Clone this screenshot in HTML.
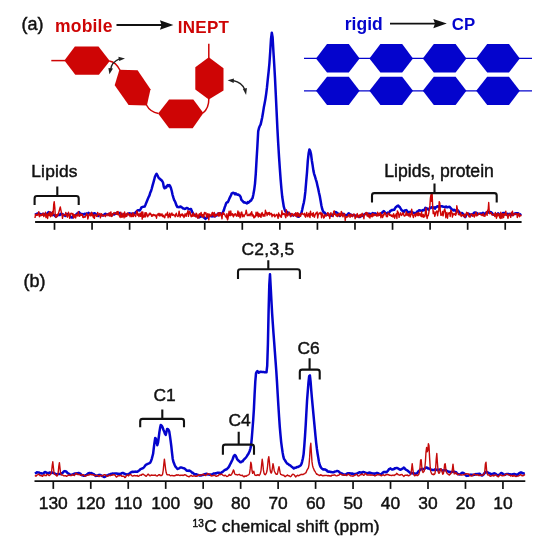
<!DOCTYPE html>
<html lang="en"><head><meta charset="utf-8"><title>13C NMR spectra</title>
<style>
html,body{margin:0;padding:0;background:#fff;}
body{width:550px;height:546px;overflow:hidden;}
svg{display:block;filter:blur(0.45px);}
.t{font-family:"Liberation Sans", Arial, Helvetica, sans-serif;font-size:17.4px;fill:#111;stroke:#111;stroke-width:0.45px;}
.b{font-family:"Liberation Sans", Arial, Helvetica, sans-serif;font-size:17.5px;font-weight:bold;}
</style></head><body>
<svg width="550" height="546" viewBox="0 0 550 546">
<rect width="550" height="546" fill="#fff"/>
<g fill="#ce0505" stroke="none">
<polygon points="64.4,60.5 74.9,46.4 98.5,46.4 109.8,61 98.9,74.7 75.3,74.7" fill="#ce0505"/>
<polygon points="119.4,69.8 137.6,70.2 150.5,89.3 146.9,105.4 128.6,105 114.7,85.2" fill="#ce0505"/>
<polygon points="158.1,113.6 169.1,99.5 193.3,99.5 203.4,113 192.7,128.3 169.1,128.3" fill="#ce0505"/>
<polygon points="208.8,57.2 223.5,68.3 223.5,90.4 208.8,99.5 195.3,89.4 195.3,67.3" fill="#ce0505"/>
</g>
<g fill="none" stroke="#ce0505" stroke-width="1.5">
<path d="M51.3,60.6 L65,60.6"/>
<path d="M109.3,61 Q116.2,62.3 120,70.3"/>
<path d="M146.5,105 Q150,112 158.5,113.4"/>
<path d="M208.8,99 Q209,108 203,113"/>
<path d="M208.8,43.7 L208.8,58"/>
</g>
<g fill="none" stroke="#222" stroke-width="1.4">
<path d="M110.8,69 Q111.6,62.3 119.5,58.9"/>
<path d="M233,80.5 Q242.5,82.5 244.9,90"/>
</g>
<path d="M125,58.4 L118.4,56.8 L119.2,60.9 Z" fill="#222"/>
<path d="M109.4,74.2 L108.4,67.9 L113,68.4 Z" fill="#222"/>
<path d="M227.6,80.2 L233.9,78.4 L233.7,82.9 Z" fill="#222"/>
<path d="M246.1,95 L242.9,88.9 L246.9,88 Z" fill="#222"/>
<line x1="304" y1="58.4" x2="532" y2="58.4" stroke="#0404cd" stroke-width="1.3"/>
<polygon points="316.0,58.4 327.0,44.1 348.8,44.1 359.6,58.4 348.8,72.6 327.0,72.6" fill="#0404cd"/>
<polygon points="369.4,58.4 380.4,44.1 402.2,44.1 413.0,58.4 402.2,72.6 380.4,72.6" fill="#0404cd"/>
<polygon points="422.8,58.4 433.8,44.1 455.6,44.1 466.40000000000003,58.4 455.6,72.6 433.8,72.6" fill="#0404cd"/>
<polygon points="476.2,58.4 487.2,44.1 509.0,44.1 519.8,58.4 509.0,72.6 487.2,72.6" fill="#0404cd"/>
<line x1="304" y1="90.8" x2="532" y2="90.8" stroke="#0404cd" stroke-width="1.3"/>
<polygon points="316.0,90.8 327.0,76.8 348.8,76.8 359.6,90.8 348.8,105.1 327.0,105.1" fill="#0404cd"/>
<polygon points="369.4,90.8 380.4,76.8 402.2,76.8 413.0,90.8 402.2,105.1 380.4,105.1" fill="#0404cd"/>
<polygon points="422.8,90.8 433.8,76.8 455.6,76.8 466.40000000000003,90.8 455.6,105.1 433.8,105.1" fill="#0404cd"/>
<polygon points="476.2,90.8 487.2,76.8 509.0,76.8 519.8,90.8 509.0,105.1 487.2,105.1" fill="#0404cd"/>
<text x="21.6" y="29.9" class="t" style="font-size:18px">(a)</text>
<text x="55" y="31.5" class="b" fill="#ce0505" letter-spacing="0.2">mobile</text>
<line x1="116.5" y1="25" x2="165.4" y2="25" stroke="#111" stroke-width="1.9"/>
<path d="M173.4,25 L159.9,20.3 L161.6,25 L159.9,29.7 Z" fill="#111"/>
<text x="177.8" y="32.6" class="b" style="font-size:17px" letter-spacing="0.25" fill="#ce0505">INEPT</text>
<text x="344.8" y="29.8" class="b" fill="#0404cd">rigid</text>
<line x1="390" y1="23.6" x2="438.8" y2="23.6" stroke="#111" stroke-width="1.9"/>
<path d="M446.8,23.6 L433.3,18.900000000000002 L435.0,23.6 L433.3,28.3 Z" fill="#111"/>
<text x="451.8" y="30.2" class="b" style="font-size:16.8px" fill="#0404cd">CP</text>
<path d="M35.0,214.7 L35.8,214.2 L36.6,214.2 L37.4,213.5 L38.2,213.8 L39.0,213.5 L39.8,213.8 L40.6,214.2 L41.4,214.7 L42.2,214.5 L43.0,213.7 L43.8,214.2 L44.6,214.4 L45.4,215.0 L46.2,214.3 L47.0,213.7 L47.8,213.0 L48.6,212.1 L49.4,213.1 L50.2,212.6 L51.0,212.9 L51.8,213.6 L52.6,214.7 L53.4,214.8 L54.2,215.0 L55.0,215.8 L55.8,216.6 L56.6,216.1 L57.4,215.5 L58.2,215.1 L59.0,214.9 L59.8,215.0 L60.6,213.8 L61.4,214.1 L62.2,214.3 L63.0,214.3 L63.8,215.2 L64.6,215.4 L65.4,216.0 L66.2,215.1 L67.0,214.1 L67.8,214.7 L68.6,214.5 L69.4,214.8 L70.2,216.4 L71.0,217.3 L71.8,217.4 L72.6,217.4 L73.4,215.8 L74.2,215.6 L75.0,215.5 L75.8,215.0 L76.6,214.2 L77.4,213.4 L78.2,213.0 L79.0,212.2 L79.8,213.5 L80.6,213.6 L81.4,214.6 L82.2,214.1 L83.0,214.6 L83.8,214.3 L84.6,213.7 L85.4,214.5 L86.2,213.6 L87.0,213.6 L87.8,213.3 L88.6,212.9 L89.4,213.8 L90.2,214.6 L91.0,213.5 L91.8,214.0 L92.6,213.5 L93.4,213.9 L94.2,213.2 L95.0,213.5 L95.8,214.1 L96.6,214.8 L97.4,214.8 L98.2,215.9 L99.0,214.8 L99.8,215.2 L100.6,215.4 L101.4,215.0 L102.2,215.3 L103.0,215.5 L103.8,214.8 L104.6,214.3 L105.4,213.7 L106.2,214.5 L107.0,214.4 L107.8,214.3 L108.6,214.1 L109.4,214.7 L110.2,214.7 L111.0,215.2 L111.8,215.4 L112.6,214.4 L113.4,214.1 L114.2,214.5 L115.0,213.9 L115.8,213.3 L116.6,213.7 L117.4,213.6 L118.2,213.5 L119.0,213.0 L119.8,213.0 L120.6,213.7 L121.4,214.9 L122.2,215.1 L123.0,214.7 L123.8,214.7 L124.6,214.7 L125.4,215.3 L126.2,214.5 L127.0,214.4 L127.8,214.1 L128.6,213.6 L129.4,213.2 L130.2,214.3 L131.0,213.5 L131.8,213.9 L132.6,213.7 L133.4,213.6 L134.2,214.1 L135.0,213.4 L135.8,212.2 L136.6,211.4 L137.4,210.5 L138.2,210.3 L139.0,210.3 L139.8,210.5 L140.6,209.1 L141.4,207.5 L142.2,207.2 L143.0,206.7 L143.8,206.7 L144.6,206.6 L145.4,205.0 L146.2,202.9 L147.0,201.0 L147.8,199.1 L148.6,197.1 L149.4,195.7 L150.2,192.8 L151.0,191.1 L151.8,188.5 L152.6,185.4 L153.4,182.6 L154.2,179.7 L155.0,176.5 L155.8,175.0 L156.6,173.7 L157.4,175.3 L158.2,176.9 L159.0,178.3 L159.8,178.6 L160.6,179.6 L161.4,180.1 L162.2,181.1 L163.0,182.5 L163.8,186.9 L164.6,188.3 L165.4,187.0 L166.2,187.5 L167.0,185.9 L167.8,185.0 L168.6,186.0 L169.4,185.1 L170.2,186.2 L171.0,188.2 L171.8,191.3 L172.6,195.0 L173.4,197.7 L174.2,200.1 L175.0,201.4 L175.8,203.5 L176.6,205.7 L177.4,207.1 L178.2,207.1 L179.0,207.2 L179.8,206.7 L180.6,206.5 L181.4,207.3 L182.2,207.5 L183.0,208.4 L183.8,208.5 L184.6,208.9 L185.4,208.8 L186.2,208.1 L187.0,208.1 L187.8,208.2 L188.6,209.2 L189.4,209.3 L190.2,209.1 L191.0,209.0 L191.8,211.1 L192.6,212.6 L193.4,214.1 L194.2,214.7 L195.0,215.2 L195.8,215.7 L196.6,216.0 L197.4,216.6 L198.2,217.1 L199.0,217.3 L199.8,217.0 L200.6,216.4 L201.4,216.4 L202.2,216.0 L203.0,216.2 L203.8,217.6 L204.6,217.5 L205.4,218.9 L206.2,218.1 L207.0,217.7 L207.8,217.1 L208.6,216.1 L209.4,215.9 L210.2,215.9 L211.0,216.2 L211.8,216.4 L212.6,215.9 L213.4,216.3 L214.2,215.6 L215.0,216.4 L215.8,214.9 L216.6,215.5 L217.4,214.8 L218.2,213.5 L219.0,213.5 L219.8,213.5 L220.6,213.5 L221.4,213.8 L222.2,214.3 L223.0,212.3 L223.8,210.3 L224.6,207.6 L225.4,205.5 L226.2,203.2 L227.0,202.3 L227.8,202.2 L228.6,200.4 L229.4,198.6 L230.2,196.9 L231.0,195.3 L231.8,193.3 L232.6,193.0 L233.4,192.8 L234.2,193.1 L235.0,194.3 L235.8,193.4 L236.6,194.4 L237.4,194.7 L238.2,194.5 L239.0,195.1 L239.8,195.6 L240.6,196.9 L241.4,199.9 L242.2,200.7 L243.0,201.5 L243.8,202.5 L244.6,202.2 L245.4,202.8 L246.2,202.9 L247.0,203.4 L247.8,202.1 L248.6,202.6 L249.4,201.9 L250.2,200.8 L251.0,200.8 L251.8,199.1 L252.6,198.0 L253.4,194.3 L254.2,189.8 L255.0,183.6 L255.8,173.4 L256.6,159.1 L257.4,146.0 L258.2,131.4 L259.0,128.0 L259.8,126.0 L260.6,124.6 L261.4,121.1 L262.2,117.5 L263.0,112.8 L263.8,107.6 L264.6,103.6 L265.4,99.1 L266.2,93.6 L267.0,87.2 L267.8,79.1 L268.6,71.9 L269.4,63.7 L270.2,52.0 L271.0,39.1 L271.8,32.7 L272.6,37.2 L273.4,51.3 L274.2,64.0 L275.0,78.1 L275.8,94.7 L276.6,111.6 L277.4,128.6 L278.2,143.3 L279.0,156.3 L279.8,168.1 L280.6,179.1 L281.4,188.5 L282.2,196.5 L283.0,201.8 L283.8,206.7 L284.6,209.4 L285.4,211.2 L286.2,212.1 L287.0,211.8 L287.8,212.9 L288.6,212.7 L289.4,214.0 L290.2,214.0 L291.0,215.4 L291.8,214.8 L292.6,215.2 L293.4,215.4 L294.2,214.8 L295.0,214.4 L295.8,215.0 L296.6,215.8 L297.4,216.1 L298.2,216.8 L299.0,216.6 L299.8,215.0 L300.6,214.2 L301.4,213.1 L302.2,209.7 L303.0,205.9 L303.8,202.8 L304.6,198.1 L305.4,191.2 L306.2,181.5 L307.0,172.4 L307.8,160.9 L308.6,153.6 L309.4,149.4 L310.2,150.8 L311.0,154.0 L311.8,160.2 L312.6,165.1 L313.4,170.6 L314.2,174.1 L315.0,176.5 L315.8,179.3 L316.6,181.8 L317.4,185.4 L318.2,188.8 L319.0,192.7 L319.8,196.2 L320.6,200.8 L321.4,205.5 L322.2,209.0 L323.0,211.1 L323.8,212.6 L324.6,212.6 L325.4,213.7 L326.2,214.4 L327.0,214.5 L327.8,214.7 L328.6,214.3 L329.4,215.2 L330.2,214.9 L331.0,215.7 L331.8,215.4 L332.6,215.8 L333.4,214.1 L334.2,213.8 L335.0,212.5 L335.8,212.1 L336.6,212.6 L337.4,212.9 L338.2,214.2 L339.0,215.3 L339.8,216.0 L340.6,214.8 L341.4,214.8 L342.2,213.8 L343.0,213.8 L343.8,214.5 L344.6,215.2 L345.4,215.2 L346.2,215.2 L347.0,214.9 L347.8,214.3 L348.6,213.2 L349.4,214.0 L350.2,214.3 L351.0,214.8 L351.8,215.4 L352.6,215.2 L353.4,215.3 L354.2,215.0 L355.0,215.4 L355.8,215.6 L356.6,216.0 L357.4,215.7 L358.2,216.6 L359.0,217.0 L359.8,217.1 L360.6,216.3 L361.4,216.0 L362.2,215.9 L363.0,215.7 L363.8,214.8 L364.6,214.2 L365.4,213.8 L366.2,213.8 L367.0,214.3 L367.8,213.8 L368.6,214.0 L369.4,213.7 L370.2,213.9 L371.0,214.5 L371.8,213.9 L372.6,213.1 L373.4,213.7 L374.2,213.6 L375.0,213.3 L375.8,213.8 L376.6,214.7 L377.4,215.1 L378.2,214.3 L379.0,214.7 L379.8,214.7 L380.6,213.6 L381.4,213.4 L382.2,212.5 L383.0,211.8 L383.8,211.1 L384.6,212.0 L385.4,213.0 L386.2,213.3 L387.0,213.4 L387.8,212.6 L388.6,213.4 L389.4,212.5 L390.2,210.9 L391.0,210.7 L391.8,209.9 L392.6,210.2 L393.4,209.8 L394.2,209.8 L395.0,208.4 L395.8,207.1 L396.6,206.7 L397.4,205.9 L398.2,205.5 L399.0,206.6 L399.8,207.1 L400.6,208.5 L401.4,209.9 L402.2,210.5 L403.0,211.3 L403.8,212.0 L404.6,210.5 L405.4,210.4 L406.2,210.1 L407.0,210.8 L407.8,212.3 L408.6,212.5 L409.4,212.0 L410.2,212.1 L411.0,211.7 L411.8,211.9 L412.6,212.3 L413.4,212.6 L414.2,213.2 L415.0,213.2 L415.8,213.0 L416.6,212.4 L417.4,211.4 L418.2,211.2 L419.0,210.2 L419.8,210.5 L420.6,210.4 L421.4,210.8 L422.2,210.7 L423.0,210.1 L423.8,210.4 L424.6,209.6 L425.4,207.8 L426.2,208.2 L427.0,209.0 L427.8,208.7 L428.6,209.9 L429.4,208.7 L430.2,207.7 L431.0,207.9 L431.8,207.2 L432.6,207.1 L433.4,208.0 L434.2,207.4 L435.0,208.6 L435.8,207.2 L436.6,207.0 L437.4,206.3 L438.2,206.5 L439.0,206.8 L439.8,206.2 L440.6,206.6 L441.4,206.2 L442.2,206.3 L443.0,206.8 L443.8,206.8 L444.6,206.9 L445.4,207.2 L446.2,206.6 L447.0,207.2 L447.8,207.2 L448.6,206.9 L449.4,206.8 L450.2,207.5 L451.0,208.5 L451.8,209.3 L452.6,209.6 L453.4,210.5 L454.2,209.7 L455.0,210.2 L455.8,211.0 L456.6,211.8 L457.4,211.0 L458.2,210.6 L459.0,211.9 L459.8,212.8 L460.6,213.4 L461.4,213.1 L462.2,213.1 L463.0,214.0 L463.8,215.3 L464.6,216.7 L465.4,217.0 L466.2,215.1 L467.0,214.0 L467.8,213.6 L468.6,213.7 L469.4,214.4 L470.2,214.6 L471.0,214.6 L471.8,215.2 L472.6,214.5 L473.4,213.6 L474.2,212.6 L475.0,212.4 L475.8,212.6 L476.6,212.9 L477.4,214.2 L478.2,214.1 L479.0,213.8 L479.8,213.7 L480.6,213.5 L481.4,213.5 L482.2,214.2 L483.0,212.8 L483.8,214.0 L484.6,214.2 L485.4,213.4 L486.2,212.6 L487.0,212.5 L487.8,211.7 L488.6,212.4 L489.4,212.8 L490.2,212.0 L491.0,212.2 L491.8,212.9 L492.6,213.8 L493.4,214.6 L494.2,215.0 L495.0,214.8 L495.8,214.4 L496.6,214.3 L497.4,213.9 L498.2,213.4 L499.0,214.2 L499.8,214.7 L500.6,215.1 L501.4,214.2 L502.2,214.2 L503.0,213.0 L503.8,212.9 L504.6,213.0 L505.4,213.8 L506.2,214.7 L507.0,213.8 L507.8,214.0 L508.6,214.4 L509.4,213.8 L510.2,214.6 L511.0,213.9 L511.8,214.9 L512.6,214.8 L513.4,214.4 L514.2,213.6 L515.0,214.0 L515.8,213.3 L516.6,213.2 L517.4,213.6 L518.2,213.2 L519.0,214.3 L519.8,214.7 L520.6,214.4 L521.4,214.0" fill="none" stroke="#0404cd" stroke-width="2.5" stroke-linejoin="round"/>
<path d="M35.0,218.0 L35.5,214.3 L36.1,214.7 L36.6,215.5 L37.2,214.2 L37.7,215.2 L38.3,214.6 L38.8,211.6 L39.4,216.7 L39.9,216.4 L40.5,214.4 L41.0,214.9 L41.6,215.6 L42.1,214.0 L42.7,214.7 L43.2,213.2 L43.8,216.5 L44.3,215.4 L44.9,215.6 L45.4,212.3 L46.0,217.6 L46.5,214.8 L47.1,214.0 L47.6,218.5 L48.2,215.0 L48.7,212.9 L49.3,215.2 L49.8,211.6 L50.4,216.7 L50.9,213.7 L51.5,213.0 L52.0,216.1 L52.6,211.4 L53.1,214.2 L53.7,204.7 L54.2,201.6 L54.8,207.3 L55.3,215.9 L55.9,217.5 L56.4,214.6 L57.0,216.6 L57.5,214.1 L58.1,215.1 L58.6,212.8 L59.2,211.1 L59.7,208.9 L60.3,206.9 L60.8,209.6 L61.4,212.3 L61.9,213.6 L62.5,218.4 L63.0,215.4 L63.6,214.7 L64.1,214.7 L64.7,214.6 L65.2,214.8 L65.8,212.4 L66.3,215.7 L66.9,215.0 L67.4,217.2 L68.0,214.4 L68.5,212.2 L69.1,215.4 L69.6,218.2 L70.2,214.3 L70.7,213.6 L71.3,213.2 L71.8,213.6 L72.4,215.1 L72.9,213.5 L73.5,218.0 L74.0,214.6 L74.6,215.0 L75.1,217.6 L75.7,217.9 L76.2,214.5 L76.8,215.2 L77.3,215.9 L77.9,214.3 L78.4,211.8 L79.0,216.1 L79.5,216.3 L80.1,215.8 L80.6,213.9 L81.2,215.3 L81.7,214.4 L82.3,214.5 L82.8,217.1 L83.4,217.6 L83.9,216.7 L84.5,217.0 L85.0,217.3 L85.6,215.9 L86.1,215.3 L86.7,213.5 L87.2,214.5 L87.8,219.0 L88.3,217.1 L88.9,215.0 L89.4,214.2 L90.0,213.5 L90.5,215.8 L91.1,215.5 L91.6,212.1 L92.2,215.7 L92.7,214.0 L93.3,217.5 L93.8,215.5 L94.4,218.3 L94.9,214.7 L95.5,215.0 L96.0,215.4 L96.6,216.5 L97.1,215.8 L97.7,212.5 L98.2,214.9 L98.8,214.9 L99.3,214.1 L99.9,213.4 L100.4,217.8 L101.0,214.7 L101.5,213.7 L102.1,215.9 L102.6,215.5 L103.2,215.2 L103.7,215.9 L104.3,215.3 L104.8,215.5 L105.4,216.6 L105.9,215.6 L106.5,214.2 L107.0,214.4 L107.6,214.2 L108.1,215.7 L108.7,213.8 L109.2,212.8 L109.8,216.0 L110.3,213.0 L110.9,211.9 L111.4,216.5 L112.0,214.4 L112.5,215.9 L113.1,213.9 L113.6,213.0 L114.2,212.6 L114.7,213.6 L115.3,213.9 L115.8,213.2 L116.4,214.2 L116.9,211.7 L117.5,214.5 L118.0,211.5 L118.6,214.0 L119.1,215.5 L119.7,216.2 L120.2,217.5 L120.8,212.1 L121.3,216.2 L121.9,217.3 L122.4,216.9 L123.0,213.1 L123.5,215.5 L124.1,217.9 L124.6,211.9 L125.2,215.5 L125.7,216.9 L126.3,214.1 L126.8,216.3 L127.4,212.9 L127.9,213.4 L128.5,213.9 L129.0,215.4 L129.6,214.4 L130.1,216.7 L130.7,213.8 L131.2,215.2 L131.8,216.7 L132.3,215.6 L132.9,212.8 L133.4,216.6 L134.0,214.0 L134.5,215.0 L135.1,215.1 L135.6,216.6 L136.2,214.4 L136.7,210.9 L137.3,211.6 L137.8,215.4 L138.4,213.9 L138.9,216.6 L139.5,215.3 L140.0,213.3 L140.6,216.3 L141.1,213.4 L141.7,211.9 L142.2,219.1 L142.8,212.0 L143.3,216.5 L143.9,217.3 L144.4,216.1 L145.0,212.8 L145.5,216.9 L146.1,212.6 L146.6,213.3 L147.2,215.4 L147.7,216.8 L148.3,215.0 L148.8,215.4 L149.4,213.2 L149.9,214.4 L150.5,213.2 L151.0,214.4 L151.6,216.2 L152.1,214.8 L152.7,216.1 L153.2,214.4 L153.8,214.4 L154.3,215.4 L154.9,214.9 L155.4,216.0 L156.0,215.1 L156.5,218.2 L157.1,214.9 L157.6,214.8 L158.2,213.5 L158.7,215.2 L159.3,215.9 L159.8,213.4 L160.4,214.6 L160.9,215.9 L161.5,214.6 L162.0,213.8 L162.6,216.5 L163.1,215.2 L163.7,215.9 L164.2,217.6 L164.8,217.7 L165.3,214.6 L165.9,213.9 L166.4,215.2 L167.0,214.9 L167.5,212.3 L168.1,217.7 L168.6,215.0 L169.2,216.3 L169.7,213.3 L170.3,217.6 L170.8,214.1 L171.4,214.9 L171.9,213.0 L172.5,215.3 L173.0,214.8 L173.6,214.5 L174.1,215.6 L174.7,215.2 L175.2,216.8 L175.8,214.2 L176.3,213.2 L176.9,215.2 L177.4,216.3 L178.0,216.5 L178.5,215.4 L179.1,211.1 L179.6,214.9 L180.2,217.0 L180.7,215.0 L181.3,214.2 L181.8,215.4 L182.4,213.9 L182.9,216.1 L183.5,215.1 L184.0,217.5 L184.6,215.8 L185.1,213.6 L185.7,215.9 L186.2,216.3 L186.8,213.1 L187.3,213.4 L187.9,210.6 L188.4,216.4 L189.0,213.9 L189.5,211.4 L190.1,212.0 L190.6,215.1 L191.2,216.8 L191.7,215.0 L192.3,216.3 L192.8,214.0 L193.4,212.9 L193.9,216.2 L194.5,215.9 L195.0,215.0 L195.6,216.9 L196.1,213.1 L196.7,214.0 L197.2,216.7 L197.8,218.2 L198.3,214.9 L198.9,217.9 L199.4,213.7 L200.0,215.4 L200.5,214.5 L201.1,212.4 L201.6,216.1 L202.2,216.8 L202.7,214.4 L203.3,214.5 L203.8,217.2 L204.4,212.7 L204.9,212.4 L205.5,213.9 L206.0,212.9 L206.6,217.3 L207.1,215.8 L207.7,213.8 L208.2,213.9 L208.8,219.9 L209.3,214.1 L209.9,214.3 L210.4,216.0 L211.0,216.1 L211.5,215.0 L212.1,212.8 L212.6,212.4 L213.2,216.0 L213.7,215.3 L214.3,212.5 L214.8,216.9 L215.4,215.9 L215.9,214.5 L216.5,214.6 L217.0,215.5 L217.6,214.0 L218.1,213.0 L218.7,216.0 L219.2,212.8 L219.8,215.8 L220.3,212.6 L220.9,214.8 L221.4,215.0 L222.0,218.8 L222.5,213.4 L223.1,212.4 L223.6,214.3 L224.2,213.8 L224.7,214.5 L225.3,216.0 L225.8,216.5 L226.4,217.8 L226.9,213.7 L227.5,219.9 L228.0,218.5 L228.6,214.4 L229.1,211.1 L229.7,215.5 L230.2,215.7 L230.8,211.0 L231.3,215.1 L231.9,215.0 L232.4,213.7 L233.0,215.9 L233.5,216.8 L234.1,214.1 L234.6,215.1 L235.2,213.7 L235.7,214.1 L236.3,215.9 L236.8,216.3 L237.4,214.1 L237.9,211.0 L238.5,216.2 L239.0,212.3 L239.6,214.8 L240.1,217.8 L240.7,214.9 L241.2,212.4 L241.8,212.1 L242.3,216.9 L242.9,214.5 L243.4,215.5 L244.0,216.7 L244.5,215.0 L245.1,214.4 L245.6,213.5 L246.2,210.1 L246.7,213.0 L247.3,215.5 L247.8,215.1 L248.4,215.6 L248.9,214.1 L249.5,214.4 L250.0,215.8 L250.6,213.3 L251.1,214.5 L251.7,211.7 L252.2,216.1 L252.8,214.3 L253.3,215.4 L253.9,217.9 L254.4,217.4 L255.0,215.6 L255.5,216.9 L256.1,212.1 L256.6,215.3 L257.2,215.5 L257.7,212.2 L258.3,217.0 L258.8,213.8 L259.4,216.2 L259.9,214.0 L260.5,216.5 L261.0,217.3 L261.6,213.7 L262.1,212.5 L262.7,214.7 L263.2,216.4 L263.8,214.5 L264.3,214.3 L264.9,216.2 L265.4,210.2 L266.0,213.6 L266.5,212.4 L267.1,215.6 L267.6,213.5 L268.2,212.7 L268.7,214.2 L269.3,212.5 L269.8,215.0 L270.4,213.4 L270.9,213.7 L271.5,213.4 L272.0,216.7 L272.6,214.6 L273.1,215.2 L273.7,215.6 L274.2,214.1 L274.8,216.9 L275.3,216.1 L275.9,215.5 L276.4,214.4 L277.0,214.6 L277.5,216.3 L278.1,218.4 L278.6,213.0 L279.2,215.6 L279.7,214.7 L280.3,216.8 L280.8,216.1 L281.4,217.3 L281.9,210.8 L282.5,214.6 L283.0,213.5 L283.6,214.5 L284.1,213.5 L284.7,214.0 L285.2,216.0 L285.8,217.7 L286.3,209.7 L286.9,214.6 L287.4,216.0 L288.0,215.4 L288.5,214.2 L289.1,212.2 L289.6,212.9 L290.2,215.8 L290.7,216.7 L291.3,215.3 L291.8,213.4 L292.4,214.5 L292.9,214.1 L293.5,216.0 L294.0,215.2 L294.6,214.1 L295.1,215.6 L295.7,212.8 L296.2,216.1 L296.8,216.8 L297.3,212.7 L297.9,215.6 L298.4,213.2 L299.0,216.6 L299.5,216.3 L300.1,214.3 L300.6,216.3 L301.2,213.9 L301.7,213.3 L302.3,213.2 L302.8,214.3 L303.4,214.2 L303.9,214.7 L304.5,213.3 L305.0,216.4 L305.6,217.2 L306.1,214.5 L306.7,212.5 L307.2,215.9 L307.8,216.7 L308.3,214.8 L308.9,213.2 L309.4,215.8 L310.0,217.5 L310.5,211.1 L311.1,215.1 L311.6,214.2 L312.2,213.7 L312.7,216.2 L313.3,212.6 L313.8,215.1 L314.4,217.2 L314.9,215.5 L315.5,214.1 L316.0,212.9 L316.6,213.5 L317.1,212.0 L317.7,218.0 L318.2,215.2 L318.8,213.8 L319.3,212.9 L319.9,213.0 L320.4,214.1 L321.0,212.3 L321.5,217.7 L322.1,213.7 L322.6,213.9 L323.2,216.1 L323.7,218.0 L324.3,217.5 L324.8,214.5 L325.4,216.0 L325.9,215.6 L326.5,215.9 L327.0,214.9 L327.6,212.8 L328.1,212.8 L328.7,215.8 L329.2,214.3 L329.8,218.5 L330.3,214.8 L330.9,212.6 L331.4,214.5 L332.0,214.8 L332.5,215.5 L333.1,216.7 L333.6,211.9 L334.2,210.8 L334.7,214.3 L335.3,213.8 L335.8,215.3 L336.4,215.9 L336.9,214.4 L337.5,216.5 L338.0,214.0 L338.6,215.4 L339.1,213.6 L339.7,213.3 L340.2,216.4 L340.8,216.0 L341.3,211.4 L341.9,212.8 L342.4,215.4 L343.0,216.9 L343.5,214.3 L344.1,215.4 L344.6,213.4 L345.2,220.5 L345.7,216.9 L346.3,217.3 L346.8,216.5 L347.4,217.0 L347.9,216.7 L348.5,214.5 L349.0,215.8 L349.6,214.8 L350.1,217.3 L350.7,214.1 L351.2,214.4 L351.8,216.0 L352.3,216.7 L352.9,215.2 L353.4,214.1 L354.0,214.9 L354.5,214.2 L355.1,218.7 L355.6,217.1 L356.2,217.2 L356.7,215.0 L357.3,213.6 L357.8,216.6 L358.4,217.4 L358.9,215.9 L359.5,214.9 L360.0,217.0 L360.6,214.4 L361.1,216.5 L361.7,214.1 L362.2,213.3 L362.8,215.7 L363.3,215.7 L363.9,218.7 L364.4,214.5 L365.0,214.8 L365.5,213.2 L366.1,212.4 L366.6,212.6 L367.2,216.1 L367.7,212.9 L368.3,216.6 L368.8,216.9 L369.4,214.4 L369.9,218.0 L370.5,215.1 L371.0,216.4 L371.6,214.3 L372.1,216.8 L372.7,213.5 L373.2,216.0 L373.8,214.0 L374.3,214.6 L374.9,215.5 L375.4,214.4 L376.0,214.6 L376.5,216.1 L377.1,215.8 L377.6,212.1 L378.2,215.6 L378.7,215.7 L379.3,213.1 L379.8,215.0 L380.4,212.6 L380.9,217.7 L381.5,214.4 L382.0,214.9 L382.6,217.6 L383.1,214.9 L383.7,215.7 L384.2,212.8 L384.8,213.9 L385.3,212.6 L385.9,214.6 L386.4,216.6 L387.0,215.4 L387.5,216.7 L388.1,213.2 L388.6,213.1 L389.2,213.5 L389.7,215.4 L390.3,215.2 L390.8,214.8 L391.4,216.4 L391.9,215.2 L392.5,215.1 L393.0,217.1 L393.6,213.8 L394.1,215.6 L394.7,218.2 L395.2,215.2 L395.8,216.0 L396.3,213.7 L396.9,218.5 L397.4,210.9 L398.0,212.3 L398.5,212.7 L399.1,217.3 L399.6,214.8 L400.2,214.2 L400.7,212.8 L401.3,215.5 L401.8,215.2 L402.4,214.3 L402.9,212.7 L403.5,213.2 L404.0,215.9 L404.6,216.1 L405.1,215.7 L405.7,214.9 L406.2,211.7 L406.8,215.2 L407.3,213.4 L407.9,215.2 L408.4,216.0 L409.0,213.8 L409.5,213.3 L410.1,217.0 L410.6,215.8 L411.2,213.8 L411.7,209.1 L412.3,214.1 L412.8,215.6 L413.4,217.5 L413.9,215.1 L414.5,214.5 L415.0,214.2 L415.6,216.5 L416.1,213.3 L416.7,215.0 L417.2,213.2 L417.8,215.6 L418.3,212.5 L418.9,215.5 L419.4,213.3 L420.0,213.8 L420.5,215.5 L421.1,216.5 L421.6,211.8 L422.2,216.8 L422.7,216.0 L423.3,214.5 L423.8,217.4 L424.4,215.1 L424.9,216.5 L425.5,211.4 L426.0,208.0 L426.6,215.7 L427.1,218.5 L427.7,215.5 L428.2,215.6 L428.8,212.8 L429.3,209.6 L429.9,205.4 L430.4,198.2 L431.0,194.7 L431.5,201.2 L432.1,193.4 L432.6,204.8 L433.2,213.6 L433.7,211.3 L434.3,213.1 L434.8,216.3 L435.4,214.0 L435.9,211.8 L436.5,211.6 L437.0,210.8 L437.6,215.7 L438.1,212.1 L438.7,211.2 L439.2,201.6 L439.8,203.0 L440.3,210.8 L440.9,215.3 L441.4,214.4 L442.0,214.9 L442.5,211.5 L443.1,215.9 L443.6,213.2 L444.2,210.2 L444.7,209.0 L445.3,211.3 L445.8,217.7 L446.4,213.8 L446.9,212.4 L447.5,218.2 L448.0,214.4 L448.6,213.8 L449.1,212.6 L449.7,212.9 L450.2,216.5 L450.8,210.2 L451.3,210.8 L451.9,213.0 L452.4,217.1 L453.0,213.4 L453.5,214.9 L454.1,214.1 L454.6,214.6 L455.2,213.2 L455.7,215.3 L456.3,213.5 L456.8,205.8 L457.4,209.2 L457.9,211.2 L458.5,214.5 L459.0,214.3 L459.6,214.8 L460.1,215.0 L460.7,212.5 L461.2,216.5 L461.8,215.5 L462.3,214.9 L462.9,215.0 L463.4,216.1 L464.0,215.2 L464.5,214.2 L465.1,217.5 L465.6,214.4 L466.2,213.8 L466.7,212.3 L467.3,214.9 L467.8,213.0 L468.4,214.3 L468.9,216.6 L469.5,215.9 L470.0,217.3 L470.6,215.4 L471.1,213.9 L471.7,214.4 L472.2,214.2 L472.8,216.3 L473.3,215.2 L473.9,214.5 L474.4,217.0 L475.0,215.5 L475.5,214.1 L476.1,212.3 L476.6,215.9 L477.2,215.6 L477.7,215.1 L478.3,214.3 L478.8,213.3 L479.4,213.5 L479.9,214.3 L480.5,214.5 L481.0,214.9 L481.6,214.5 L482.1,215.6 L482.7,215.1 L483.2,213.4 L483.8,216.1 L484.3,216.1 L484.9,216.2 L485.4,214.5 L486.0,213.9 L486.5,211.8 L487.1,215.4 L487.6,210.5 L488.2,209.4 L488.7,202.5 L489.3,212.3 L489.8,213.8 L490.4,212.9 L490.9,212.5 L491.5,213.8 L492.0,215.1 L492.6,214.9 L493.1,214.7 L493.7,214.1 L494.2,214.8 L494.8,216.5 L495.3,212.5 L495.9,214.9 L496.4,218.2 L497.0,216.0 L497.5,213.5 L498.1,215.7 L498.6,213.6 L499.2,214.9 L499.7,217.5 L500.3,218.4 L500.8,212.3 L501.4,216.3 L501.9,218.3 L502.5,213.8 L503.0,215.3 L503.6,217.5 L504.1,213.6 L504.7,215.2 L505.2,214.7 L505.8,211.2 L506.3,215.0 L506.9,214.2 L507.4,216.1 L508.0,218.3 L508.5,215.9 L509.1,213.8 L509.6,215.3 L510.2,215.4 L510.7,217.3 L511.3,212.8 L511.8,212.9 L512.4,211.1 L512.9,215.9 L513.5,215.0 L514.0,213.9 L514.6,213.9 L515.1,214.2 L515.7,213.4 L516.2,214.2 L516.8,213.9 L517.3,217.5 L517.9,215.8 L518.4,213.5 L519.0,213.6 L519.5,216.7 L520.1,215.3 L520.6,215.0 L521.2,216.3" fill="none" stroke="#ce0505" stroke-width="1.4" stroke-linejoin="round"/>
<line x1="35.1" y1="222.0" x2="521.6" y2="222.0" stroke="#111" stroke-width="1.8"/>
<line x1="54.5" y1="222.0" x2="54.5" y2="229.8" stroke="#111" stroke-width="1.7"/>
<line x1="92.06" y1="222.0" x2="92.06" y2="229.8" stroke="#111" stroke-width="1.7"/>
<line x1="129.62" y1="222.0" x2="129.62" y2="229.8" stroke="#111" stroke-width="1.7"/>
<line x1="167.18" y1="222.0" x2="167.18" y2="229.8" stroke="#111" stroke-width="1.7"/>
<line x1="204.74" y1="222.0" x2="204.74" y2="229.8" stroke="#111" stroke-width="1.7"/>
<line x1="242.3" y1="222.0" x2="242.3" y2="229.8" stroke="#111" stroke-width="1.7"/>
<line x1="279.86" y1="222.0" x2="279.86" y2="229.8" stroke="#111" stroke-width="1.7"/>
<line x1="317.42" y1="222.0" x2="317.42" y2="229.8" stroke="#111" stroke-width="1.7"/>
<line x1="354.98" y1="222.0" x2="354.98" y2="229.8" stroke="#111" stroke-width="1.7"/>
<line x1="392.54" y1="222.0" x2="392.54" y2="229.8" stroke="#111" stroke-width="1.7"/>
<line x1="430.1" y1="222.0" x2="430.1" y2="229.8" stroke="#111" stroke-width="1.7"/>
<line x1="467.66" y1="222.0" x2="467.66" y2="229.8" stroke="#111" stroke-width="1.7"/>
<line x1="505.22" y1="222.0" x2="505.22" y2="229.8" stroke="#111" stroke-width="1.7"/>
<text x="31.3" y="177.1" class="t" letter-spacing="0.15">Lipids</text>
<path d="M34.6,205 L34.6,198.4 Q34.6,196 37.0,196 L76.3,196 Q78.7,196 78.7,198.4 L78.7,205 M57.3,196 L57.3,186.6" fill="none" stroke="#111" stroke-width="2.1"/>
<text x="384.3" y="176.6" class="t" style="font-size:17.6px">Lipids, protein</text>
<path d="M372,202.4 L372,195.5 Q372,193.1 374.4,193.1 L494.3,193.1 Q496.7,193.1 496.7,195.5 L496.7,202.4 M434.5,193.1 L434.5,183.4" fill="none" stroke="#111" stroke-width="2.1"/>
<text x="23.6" y="286.7" class="t" style="font-size:18px">(b)</text>
<path d="M34.8,473.3 L35.5,473.1 L36.2,472.9 L36.9,472.3 L37.6,472.5 L38.3,472.4 L39.0,472.5 L39.7,472.9 L40.4,473.2 L41.1,473.3 L41.8,473.5 L42.5,473.5 L43.2,473.4 L43.9,472.9 L44.6,472.2 L45.3,472.0 L46.0,472.4 L46.7,472.8 L47.4,472.9 L48.1,472.9 L48.8,473.0 L49.5,472.6 L50.2,472.6 L50.9,472.7 L51.6,472.6 L52.3,472.6 L53.0,473.0 L53.7,473.1 L54.4,473.5 L55.1,473.7 L55.8,474.1 L56.5,474.2 L57.2,474.3 L57.9,474.1 L58.6,474.0 L59.3,473.9 L60.0,473.9 L60.7,473.9 L61.4,473.2 L62.1,473.3 L62.8,472.6 L63.5,471.8 L64.2,471.3 L64.9,471.1 L65.6,471.4 L66.3,471.5 L67.0,472.4 L67.7,473.2 L68.4,473.5 L69.1,473.9 L69.8,474.4 L70.5,474.6 L71.2,474.8 L71.9,474.6 L72.6,474.4 L73.3,474.1 L74.0,474.0 L74.7,473.5 L75.4,473.5 L76.1,473.6 L76.8,473.3 L77.5,473.4 L78.2,472.9 L78.9,473.0 L79.6,473.6 L80.3,473.6 L81.0,474.3 L81.7,475.2 L82.4,475.2 L83.1,475.5 L83.8,475.7 L84.5,475.7 L85.2,475.5 L85.9,475.1 L86.6,474.8 L87.3,474.2 L88.0,473.6 L88.7,473.1 L89.4,472.9 L90.1,472.9 L90.8,473.4 L91.5,473.1 L92.2,473.6 L92.9,474.0 L93.6,474.0 L94.3,474.6 L95.0,475.2 L95.7,475.9 L96.4,475.8 L97.1,475.8 L97.8,475.4 L98.5,475.1 L99.2,475.2 L99.9,474.8 L100.6,475.1 L101.3,475.5 L102.0,476.0 L102.7,476.0 L103.4,476.8 L104.1,476.9 L104.8,476.9 L105.5,476.5 L106.2,475.8 L106.9,475.5 L107.6,475.4 L108.3,474.9 L109.0,474.5 L109.7,474.4 L110.4,474.2 L111.1,473.8 L111.8,474.1 L112.5,473.6 L113.2,473.6 L113.9,473.9 L114.6,473.6 L115.3,473.5 L116.0,473.5 L116.7,473.5 L117.4,473.8 L118.1,473.9 L118.8,473.8 L119.5,474.0 L120.2,473.9 L120.9,473.9 L121.6,473.2 L122.3,473.1 L123.0,473.0 L123.7,473.2 L124.4,473.8 L125.1,474.0 L125.8,474.2 L126.5,474.6 L127.2,474.7 L127.9,474.3 L128.6,473.9 L129.3,473.7 L130.0,473.1 L130.7,472.5 L131.4,472.1 L132.1,472.0 L132.8,471.7 L133.5,471.9 L134.2,471.8 L134.9,471.8 L135.6,471.6 L136.3,471.7 L137.0,471.8 L137.7,471.5 L138.4,471.0 L139.1,470.4 L139.8,469.9 L140.5,469.2 L141.2,468.9 L141.9,468.6 L142.6,468.2 L143.3,468.0 L144.0,467.2 L144.7,466.3 L145.4,465.3 L146.1,464.6 L146.8,464.3 L147.5,463.9 L148.2,463.7 L148.9,463.4 L149.6,463.1 L150.3,462.5 L151.0,461.0 L151.7,459.1 L152.4,456.5 L153.1,453.8 L153.8,447.8 L154.5,442.6 L155.2,437.9 L155.9,438.7 L156.6,441.5 L157.3,445.2 L158.0,442.7 L158.7,437.8 L159.4,432.1 L160.1,427.9 L160.8,424.9 L161.5,425.4 L162.2,426.4 L162.9,428.3 L163.6,430.2 L164.3,431.8 L165.0,433.9 L165.7,434.9 L166.4,432.3 L167.1,428.9 L167.8,428.9 L168.5,429.8 L169.2,431.3 L169.9,435.6 L170.6,440.7 L171.3,446.2 L172.0,452.6 L172.7,458.7 L173.4,461.7 L174.1,463.4 L174.8,465.2 L175.5,466.7 L176.2,467.4 L176.9,468.4 L177.6,469.0 L178.3,468.6 L179.0,468.4 L179.7,467.9 L180.4,467.5 L181.1,467.4 L181.8,467.6 L182.5,467.9 L183.2,468.2 L183.9,468.3 L184.6,468.4 L185.3,469.3 L186.0,469.8 L186.7,470.5 L187.4,470.8 L188.1,470.6 L188.8,470.9 L189.5,470.6 L190.2,471.0 L190.9,471.6 L191.6,472.1 L192.3,472.8 L193.0,472.8 L193.7,473.7 L194.4,474.1 L195.1,474.2 L195.8,474.5 L196.5,474.3 L197.2,474.7 L197.9,475.0 L198.6,475.1 L199.3,475.4 L200.0,475.5 L200.7,475.3 L201.4,475.4 L202.1,475.1 L202.8,475.1 L203.5,474.9 L204.2,474.5 L204.9,474.2 L205.6,473.9 L206.3,473.8 L207.0,474.0 L207.7,474.4 L208.4,474.4 L209.1,474.6 L209.8,474.7 L210.5,474.6 L211.2,474.5 L211.9,474.4 L212.6,474.2 L213.3,473.6 L214.0,473.5 L214.7,473.4 L215.4,473.3 L216.1,473.4 L216.8,473.0 L217.5,472.8 L218.2,472.8 L218.9,472.7 L219.6,473.0 L220.3,473.1 L221.0,473.0 L221.7,472.3 L222.4,471.9 L223.1,471.4 L223.8,470.8 L224.5,470.3 L225.2,469.8 L225.9,469.4 L226.6,469.4 L227.3,468.7 L228.0,467.9 L228.7,467.1 L229.4,465.9 L230.1,464.3 L230.8,463.2 L231.5,461.6 L232.2,460.2 L232.9,458.5 L233.6,456.5 L234.3,455.3 L235.0,455.0 L235.7,455.8 L236.4,457.3 L237.1,459.1 L237.8,459.9 L238.5,460.7 L239.2,461.1 L239.9,462.0 L240.6,462.2 L241.3,462.0 L242.0,461.3 L242.7,461.3 L243.4,460.1 L244.1,459.4 L244.8,458.8 L245.5,458.0 L246.2,457.2 L246.9,456.1 L247.6,454.9 L248.3,454.1 L249.0,452.5 L249.7,450.9 L250.4,448.5 L251.1,445.4 L251.8,437.8 L252.5,429.0 L253.2,420.0 L253.9,409.2 L254.6,394.2 L255.3,381.5 L256.0,373.4 L256.7,371.9 L257.4,371.1 L258.1,371.7 L258.8,372.7 L259.5,372.0 L260.2,372.0 L260.9,371.7 L261.6,371.9 L262.3,372.0 L263.0,372.1 L263.7,372.1 L264.4,372.2 L265.1,372.2 L265.8,372.1 L266.5,372.2 L267.2,365.8 L267.9,344.3 L268.6,311.1 L269.3,284.8 L270.0,274.2 L270.7,287.1 L271.4,300.2 L272.1,313.1 L272.8,323.3 L273.5,333.4 L274.2,342.6 L274.9,352.1 L275.6,361.7 L276.3,371.1 L277.0,382.2 L277.7,394.2 L278.4,406.0 L279.1,417.0 L279.8,427.2 L280.5,435.2 L281.2,442.3 L281.9,447.6 L282.6,452.4 L283.3,456.4 L284.0,459.0 L284.7,459.8 L285.4,461.0 L286.1,462.2 L286.8,463.1 L287.5,463.7 L288.2,463.9 L288.9,464.9 L289.6,465.0 L290.3,465.5 L291.0,466.1 L291.7,466.7 L292.4,467.2 L293.1,467.9 L293.8,468.5 L294.5,468.1 L295.2,467.7 L295.9,467.7 L296.6,467.2 L297.3,467.0 L298.0,467.0 L298.7,466.5 L299.4,466.3 L300.1,465.8 L300.8,465.3 L301.5,463.8 L302.2,461.3 L302.9,458.2 L303.6,454.1 L304.3,445.9 L305.0,436.2 L305.7,425.2 L306.4,412.2 L307.1,399.8 L307.8,391.0 L308.5,382.1 L309.2,375.9 L309.9,375.4 L310.6,381.6 L311.3,390.9 L312.0,398.9 L312.7,406.3 L313.4,413.9 L314.1,421.3 L314.8,428.7 L315.5,436.1 L316.2,443.1 L316.9,448.9 L317.6,453.7 L318.3,457.9 L319.0,462.0 L319.7,464.7 L320.4,466.5 L321.1,467.7 L321.8,468.5 L322.5,469.0 L323.2,469.5 L323.9,469.3 L324.6,469.4 L325.3,469.5 L326.0,470.2 L326.7,470.2 L327.4,471.4 L328.1,471.5 L328.8,471.7 L329.5,471.6 L330.2,471.8 L330.9,472.1 L331.6,472.1 L332.3,472.3 L333.0,472.3 L333.7,472.2 L334.4,471.7 L335.1,471.6 L335.8,471.4 L336.5,471.2 L337.2,470.9 L337.9,471.1 L338.6,471.6 L339.3,472.1 L340.0,472.8 L340.7,473.0 L341.4,473.6 L342.1,473.6 L342.8,474.1 L343.5,474.6 L344.2,474.7 L344.9,474.5 L345.6,474.5 L346.3,474.1 L347.0,473.7 L347.7,473.3 L348.4,473.2 L349.1,473.2 L349.8,473.3 L350.5,473.6 L351.2,473.5 L351.9,473.8 L352.6,473.5 L353.3,474.0 L354.0,474.2 L354.7,474.0 L355.4,474.2 L356.1,473.8 L356.8,473.8 L357.5,473.2 L358.2,473.0 L358.9,472.6 L359.6,472.2 L360.3,472.4 L361.0,472.4 L361.7,472.8 L362.4,472.2 L363.1,472.1 L363.8,472.1 L364.5,472.3 L365.2,472.6 L365.9,472.9 L366.6,473.2 L367.3,473.4 L368.0,473.0 L368.7,472.8 L369.4,472.6 L370.1,472.7 L370.8,472.9 L371.5,473.1 L372.2,473.6 L372.9,473.4 L373.6,473.5 L374.3,473.7 L375.0,473.5 L375.7,473.4 L376.4,473.0 L377.1,472.9 L377.8,473.2 L378.5,473.5 L379.2,474.0 L379.9,474.3 L380.6,474.4 L381.3,474.1 L382.0,473.6 L382.7,472.7 L383.4,472.3 L384.1,471.9 L384.8,472.1 L385.5,472.0 L386.2,472.3 L386.9,471.7 L387.6,471.1 L388.3,470.3 L389.0,469.2 L389.7,468.9 L390.4,468.4 L391.1,469.0 L391.8,469.4 L392.5,469.5 L393.2,469.2 L393.9,469.2 L394.6,468.3 L395.3,468.4 L396.0,468.0 L396.7,468.1 L397.4,468.1 L398.1,468.4 L398.8,468.9 L399.5,469.3 L400.2,469.7 L400.9,469.5 L401.6,469.2 L402.3,468.6 L403.0,468.3 L403.7,467.6 L404.4,468.1 L405.1,468.9 L405.8,469.6 L406.5,470.0 L407.2,470.4 L407.9,470.8 L408.6,471.5 L409.3,472.1 L410.0,472.7 L410.7,473.0 L411.4,473.2 L412.1,473.4 L412.8,473.0 L413.5,473.2 L414.2,473.5 L414.9,473.5 L415.6,474.0 L416.3,473.5 L417.0,473.5 L417.7,472.6 L418.4,471.5 L419.1,470.8 L419.8,470.3 L420.5,469.4 L421.2,469.3 L421.9,469.0 L422.6,469.1 L423.3,469.2 L424.0,468.9 L424.7,468.6 L425.4,468.2 L426.1,467.5 L426.8,467.5 L427.5,467.9 L428.2,468.6 L428.9,468.5 L429.6,468.8 L430.3,469.2 L431.0,469.8 L431.7,469.8 L432.4,470.0 L433.1,470.0 L433.8,469.9 L434.5,469.9 L435.2,469.3 L435.9,469.4 L436.6,469.9 L437.3,470.2 L438.0,469.7 L438.7,469.7 L439.4,469.7 L440.1,469.4 L440.8,469.7 L441.5,470.0 L442.2,470.4 L442.9,470.5 L443.6,470.4 L444.3,470.3 L445.0,470.0 L445.7,470.2 L446.4,470.6 L447.1,470.9 L447.8,471.4 L448.5,471.7 L449.2,471.8 L449.9,472.2 L450.6,471.9 L451.3,472.1 L452.0,471.9 L452.7,471.8 L453.4,471.8 L454.1,471.8 L454.8,471.8 L455.5,472.1 L456.2,472.3 L456.9,473.1 L457.6,473.8 L458.3,474.1 L459.0,474.3 L459.7,474.4 L460.4,474.1 L461.1,473.5 L461.8,473.0 L462.5,472.7 L463.2,472.9 L463.9,473.2 L464.6,473.7 L465.3,474.7 L466.0,475.6 L466.7,475.9 L467.4,475.7 L468.1,475.8 L468.8,475.3 L469.5,474.9 L470.2,474.8 L470.9,474.6 L471.6,474.8 L472.3,474.8 L473.0,475.0 L473.7,474.9 L474.4,474.7 L475.1,474.5 L475.8,474.1 L476.5,474.3 L477.2,473.9 L477.9,474.2 L478.6,474.0 L479.3,473.7 L480.0,473.9 L480.7,475.1 L481.4,475.2 L482.1,475.6 L482.8,475.0 L483.5,474.5 L484.2,473.5 L484.9,472.8 L485.6,472.1 L486.3,472.2 L487.0,472.0 L487.7,472.5 L488.4,472.7 L489.1,473.2 L489.8,473.4 L490.5,473.8 L491.2,474.5 L491.9,474.1 L492.6,474.0 L493.3,473.6 L494.0,473.3 L494.7,473.5 L495.4,473.7 L496.1,474.3 L496.8,475.1 L497.5,475.0 L498.2,475.2 L498.9,475.0 L499.6,474.6 L500.3,473.9 L501.0,473.1 L501.7,473.1 L502.4,473.4 L503.1,474.0 L503.8,474.4 L504.5,474.6 L505.2,474.7 L505.9,474.2 L506.6,474.1 L507.3,473.9 L508.0,474.1 L508.7,474.1 L509.4,474.3 L510.1,474.3 L510.8,474.4 L511.5,474.4 L512.2,474.5 L512.9,474.3 L513.6,474.1 L514.3,474.0 L515.0,474.2 L515.7,474.6 L516.4,474.5 L517.1,475.2 L517.8,474.3 L518.5,473.9 L519.2,473.1 L519.9,472.8 L520.6,472.4 L521.3,472.4 L522.0,472.8 L522.7,473.2 L523.4,473.6 L524.1,473.3 L524.8,473.1" fill="none" stroke="#0404cd" stroke-width="2.5" stroke-linejoin="round"/>
<path d="M34.8,475.7 L35.4,475.7 L36.0,476.2 L36.6,475.3 L37.2,474.9 L37.8,474.9 L38.4,474.1 L39.0,474.2 L39.6,475.1 L40.2,475.7 L40.8,475.5 L41.4,475.7 L42.0,476.0 L42.6,476.3 L43.2,475.3 L43.8,474.6 L44.4,474.9 L45.0,475.7 L45.6,475.5 L46.2,475.7 L46.8,474.7 L47.4,474.3 L48.0,474.6 L48.6,475.2 L49.2,475.6 L49.8,475.1 L50.4,474.5 L51.0,473.9 L51.6,471.8 L52.2,465.7 L52.8,461.8 L53.4,467.5 L54.0,472.5 L54.6,474.2 L55.2,474.5 L55.8,475.0 L56.4,475.6 L57.0,476.1 L57.6,475.1 L58.2,472.6 L58.8,466.4 L59.4,462.7 L60.0,468.2 L60.6,473.1 L61.2,474.8 L61.8,475.1 L62.4,474.9 L63.0,475.2 L63.6,475.7 L64.2,475.8 L64.8,475.9 L65.4,475.7 L66.0,475.9 L66.6,476.3 L67.2,475.9 L67.8,475.6 L68.4,475.0 L69.0,475.4 L69.6,475.2 L70.2,475.5 L70.8,475.6 L71.4,475.5 L72.0,474.7 L72.6,474.5 L73.2,475.2 L73.8,475.4 L74.4,475.5 L75.0,474.6 L75.6,473.3 L76.2,473.8 L76.8,473.4 L77.4,474.4 L78.0,474.7 L78.6,474.4 L79.2,474.5 L79.8,474.7 L80.4,475.4 L81.0,475.3 L81.6,475.1 L82.2,474.7 L82.8,474.8 L83.4,474.7 L84.0,475.4 L84.6,476.0 L85.2,476.2 L85.8,476.0 L86.4,475.5 L87.0,475.4 L87.6,475.1 L88.2,475.0 L88.8,475.2 L89.4,474.7 L90.0,474.5 L90.6,474.3 L91.2,474.6 L91.8,474.9 L92.4,474.7 L93.0,474.7 L93.6,475.0 L94.2,475.3 L94.8,475.7 L95.4,475.7 L96.0,475.2 L96.6,475.5 L97.2,475.3 L97.8,475.7 L98.4,475.8 L99.0,476.6 L99.6,475.6 L100.2,475.7 L100.8,475.5 L101.4,475.5 L102.0,476.0 L102.6,475.8 L103.2,475.1 L103.8,474.8 L104.4,474.6 L105.0,475.0 L105.6,474.8 L106.2,475.7 L106.8,476.4 L107.4,476.3 L108.0,476.0 L108.6,475.5 L109.2,475.2 L109.8,475.5 L110.4,475.7 L111.0,475.3 L111.6,475.2 L112.2,475.2 L112.8,474.7 L113.4,474.6 L114.0,474.9 L114.6,474.8 L115.2,475.4 L115.8,476.4 L116.4,477.1 L117.0,476.7 L117.6,476.0 L118.2,475.8 L118.8,475.9 L119.4,475.7 L120.0,475.6 L120.6,475.4 L121.2,475.5 L121.8,476.3 L122.4,476.2 L123.0,476.2 L123.6,476.2 L124.2,476.6 L124.8,477.6 L125.4,477.3 L126.0,476.3 L126.6,475.5 L127.2,475.0 L127.8,475.2 L128.4,475.9 L129.0,475.4 L129.6,474.7 L130.2,474.6 L130.8,474.5 L131.4,475.2 L132.0,475.8 L132.6,476.1 L133.2,475.8 L133.8,475.8 L134.4,475.5 L135.0,475.7 L135.6,475.7 L136.2,475.6 L136.8,475.8 L137.4,475.5 L138.0,476.2 L138.6,476.2 L139.2,475.8 L139.8,475.2 L140.4,475.2 L141.0,475.0 L141.6,475.3 L142.2,474.1 L142.8,474.2 L143.4,474.2 L144.0,474.8 L144.6,475.2 L145.2,475.6 L145.8,476.1 L146.4,476.2 L147.0,475.4 L147.6,474.6 L148.2,474.2 L148.8,474.6 L149.4,475.5 L150.0,475.9 L150.6,475.6 L151.2,475.0 L151.8,475.3 L152.4,475.2 L153.0,475.1 L153.6,475.4 L154.2,475.3 L154.8,475.2 L155.4,475.0 L156.0,475.7 L156.6,475.9 L157.2,476.1 L157.8,475.5 L158.4,475.1 L159.0,474.7 L159.6,474.6 L160.2,475.5 L160.8,475.3 L161.4,475.5 L162.0,475.3 L162.6,474.1 L163.2,470.5 L163.8,464.3 L164.4,459.1 L165.0,463.8 L165.6,469.1 L166.2,472.5 L166.8,474.4 L167.4,474.8 L168.0,474.9 L168.6,474.9 L169.2,474.6 L169.8,475.3 L170.4,475.7 L171.0,475.6 L171.6,475.5 L172.2,475.5 L172.8,475.7 L173.4,475.6 L174.0,475.7 L174.6,475.8 L175.2,475.5 L175.8,475.3 L176.4,474.8 L177.0,475.3 L177.6,474.9 L178.2,474.8 L178.8,475.0 L179.4,475.4 L180.0,475.6 L180.6,475.2 L181.2,475.1 L181.8,475.2 L182.4,475.2 L183.0,475.5 L183.6,475.2 L184.2,475.1 L184.8,474.6 L185.4,475.0 L186.0,475.2 L186.6,475.6 L187.2,476.1 L187.8,476.4 L188.4,476.5 L189.0,476.9 L189.6,476.3 L190.2,476.0 L190.8,475.5 L191.4,475.3 L192.0,476.1 L192.6,476.2 L193.2,476.1 L193.8,475.8 L194.4,475.7 L195.0,476.2 L195.6,476.2 L196.2,476.3 L196.8,476.2 L197.4,476.0 L198.0,475.2 L198.6,475.0 L199.2,475.3 L199.8,475.0 L200.4,475.3 L201.0,474.9 L201.6,475.0 L202.2,474.6 L202.8,474.6 L203.4,474.1 L204.0,474.8 L204.6,475.4 L205.2,475.1 L205.8,475.6 L206.4,474.9 L207.0,474.5 L207.6,473.4 L208.2,474.1 L208.8,473.9 L209.4,474.2 L210.0,474.5 L210.6,475.2 L211.2,476.0 L211.8,475.7 L212.4,475.9 L213.0,475.6 L213.6,475.5 L214.2,475.1 L214.8,475.2 L215.4,476.0 L216.0,476.1 L216.6,476.3 L217.2,475.9 L217.8,475.8 L218.4,475.5 L219.0,474.6 L219.6,474.3 L220.2,474.8 L220.8,474.3 L221.4,474.1 L222.0,474.4 L222.6,475.0 L223.2,475.5 L223.8,475.5 L224.4,475.8 L225.0,475.2 L225.6,475.4 L226.2,476.1 L226.8,476.5 L227.4,476.4 L228.0,476.0 L228.6,475.6 L229.2,474.4 L229.8,474.9 L230.4,475.4 L231.0,475.2 L231.6,474.3 L232.2,473.2 L232.8,471.9 L233.4,469.9 L234.0,470.8 L234.6,473.6 L235.2,474.3 L235.8,474.6 L236.4,474.5 L237.0,474.9 L237.6,475.0 L238.2,474.6 L238.8,474.5 L239.4,474.3 L240.0,475.1 L240.6,475.2 L241.2,475.5 L241.8,475.4 L242.4,475.2 L243.0,476.2 L243.6,476.5 L244.2,476.8 L244.8,475.9 L245.4,476.0 L246.0,476.3 L246.6,475.9 L247.2,475.4 L247.8,475.2 L248.4,474.9 L249.0,474.5 L249.6,473.2 L250.2,468.9 L250.8,462.3 L251.4,464.4 L252.0,470.5 L252.6,473.3 L253.2,472.4 L253.8,471.2 L254.4,473.7 L255.0,475.2 L255.6,475.4 L256.2,475.5 L256.8,475.1 L257.4,474.7 L258.0,475.2 L258.6,474.8 L259.2,475.4 L259.8,474.6 L260.4,473.2 L261.0,470.8 L261.6,464.9 L262.2,459.3 L262.8,463.3 L263.4,469.9 L264.0,473.2 L264.6,474.3 L265.2,474.7 L265.8,474.0 L266.4,473.1 L267.0,470.8 L267.6,466.0 L268.2,459.4 L268.8,456.6 L269.4,461.8 L270.0,468.8 L270.6,472.2 L271.2,473.1 L271.8,471.9 L272.4,468.0 L273.0,463.6 L273.6,466.5 L274.2,470.4 L274.8,472.0 L275.4,473.3 L276.0,474.0 L276.6,474.3 L277.2,474.2 L277.8,472.2 L278.4,468.9 L279.0,466.6 L279.6,469.7 L280.2,472.9 L280.8,474.4 L281.4,474.7 L282.0,474.8 L282.6,475.1 L283.2,475.3 L283.8,475.2 L284.4,476.2 L285.0,476.5 L285.6,476.5 L286.2,475.6 L286.8,475.6 L287.4,474.9 L288.0,475.5 L288.6,475.8 L289.2,475.8 L289.8,476.3 L290.4,476.7 L291.0,476.3 L291.6,475.5 L292.2,474.8 L292.8,474.1 L293.4,474.3 L294.0,474.8 L294.6,475.3 L295.2,476.3 L295.8,477.0 L296.4,476.0 L297.0,475.8 L297.6,475.2 L298.2,475.6 L298.8,475.8 L299.4,475.3 L300.0,475.0 L300.6,474.7 L301.2,474.3 L301.8,474.5 L302.4,474.4 L303.0,474.5 L303.6,474.2 L304.2,473.9 L304.8,473.7 L305.4,472.9 L306.0,472.8 L306.6,471.1 L307.2,469.8 L307.8,468.8 L308.4,467.8 L309.0,464.8 L309.6,457.9 L310.2,447.9 L310.8,443.3 L311.4,452.7 L312.0,461.9 L312.6,465.7 L313.2,467.8 L313.8,469.1 L314.4,470.7 L315.0,471.3 L315.6,472.5 L316.2,473.5 L316.8,474.3 L317.4,474.1 L318.0,474.9 L318.6,474.9 L319.2,475.6 L319.8,475.3 L320.4,474.8 L321.0,475.4 L321.6,475.0 L322.2,475.5 L322.8,475.8 L323.4,475.7 L324.0,475.4 L324.6,475.5 L325.2,475.5 L325.8,475.4 L326.4,475.4 L327.0,475.7 L327.6,475.9 L328.2,475.4 L328.8,475.8 L329.4,475.7 L330.0,476.1 L330.6,475.8 L331.2,476.1 L331.8,475.2 L332.4,475.3 L333.0,475.4 L333.6,475.1 L334.2,474.8 L334.8,475.0 L335.4,475.3 L336.0,475.8 L336.6,475.9 L337.2,475.8 L337.8,475.3 L338.4,475.3 L339.0,475.1 L339.6,474.3 L340.2,473.9 L340.8,474.1 L341.4,474.5 L342.0,475.0 L342.6,474.8 L343.2,475.2 L343.8,475.0 L344.4,475.2 L345.0,474.6 L345.6,475.3 L346.2,475.4 L346.8,475.6 L347.4,474.9 L348.0,474.1 L348.6,474.4 L349.2,474.8 L349.8,475.2 L350.4,475.8 L351.0,475.9 L351.6,475.9 L352.2,476.2 L352.8,475.9 L353.4,476.0 L354.0,475.8 L354.6,475.3 L355.2,474.8 L355.8,474.7 L356.4,474.5 L357.0,474.5 L357.6,475.5 L358.2,476.1 L358.8,475.9 L359.4,475.6 L360.0,475.0 L360.6,474.6 L361.2,474.8 L361.8,474.2 L362.4,474.0 L363.0,474.8 L363.6,475.4 L364.2,475.1 L364.8,474.4 L365.4,473.5 L366.0,473.9 L366.6,474.6 L367.2,475.1 L367.8,475.0 L368.4,474.8 L369.0,475.0 L369.6,474.8 L370.2,475.2 L370.8,474.8 L371.4,475.2 L372.0,475.0 L372.6,475.1 L373.2,475.3 L373.8,475.4 L374.4,475.5 L375.0,476.1 L375.6,475.4 L376.2,475.4 L376.8,474.9 L377.4,474.5 L378.0,474.9 L378.6,474.7 L379.2,474.7 L379.8,474.4 L380.4,475.2 L381.0,475.7 L381.6,475.7 L382.2,475.2 L382.8,475.0 L383.4,474.7 L384.0,475.2 L384.6,475.6 L385.2,475.4 L385.8,474.7 L386.4,474.9 L387.0,474.6 L387.6,474.3 L388.2,474.9 L388.8,474.8 L389.4,475.4 L390.0,475.1 L390.6,475.4 L391.2,475.5 L391.8,475.5 L392.4,475.2 L393.0,475.1 L393.6,475.1 L394.2,475.6 L394.8,475.0 L395.4,474.7 L396.0,474.5 L396.6,473.3 L397.2,473.6 L397.8,474.4 L398.4,474.9 L399.0,474.9 L399.6,475.2 L400.2,475.1 L400.8,474.6 L401.4,474.7 L402.0,474.4 L402.6,475.2 L403.2,475.7 L403.8,476.4 L404.4,475.8 L405.0,475.2 L405.6,475.1 L406.2,475.2 L406.8,475.2 L407.4,475.0 L408.0,475.7 L408.6,475.9 L409.2,475.4 L409.8,475.2 L410.4,474.6 L411.0,473.4 L411.6,469.1 L412.2,463.6 L412.8,468.8 L413.4,473.3 L414.0,475.1 L414.6,475.8 L415.2,475.6 L415.8,474.8 L416.4,474.8 L417.0,475.5 L417.6,475.6 L418.2,475.0 L418.8,474.3 L419.4,472.4 L420.0,467.6 L420.6,460.0 L421.2,459.8 L421.8,466.8 L422.4,471.2 L423.0,472.5 L423.6,471.8 L424.2,471.1 L424.8,468.0 L425.4,461.7 L426.0,452.1 L426.6,447.5 L427.2,451.7 L427.8,450.4 L428.4,443.6 L429.0,445.8 L429.6,457.6 L430.2,467.2 L430.8,471.4 L431.4,473.1 L432.0,474.1 L432.6,474.4 L433.2,474.7 L433.8,474.0 L434.4,474.4 L435.0,473.3 L435.6,468.7 L436.2,459.2 L436.8,453.5 L437.4,462.6 L438.0,470.3 L438.6,473.1 L439.2,473.3 L439.8,472.1 L440.4,469.8 L441.0,468.7 L441.6,470.1 L442.2,472.2 L442.8,474.2 L443.4,473.6 L444.0,470.3 L444.6,464.5 L445.2,463.7 L445.8,468.6 L446.4,472.1 L447.0,473.3 L447.6,473.9 L448.2,474.1 L448.8,474.7 L449.4,475.1 L450.0,474.4 L450.6,473.8 L451.2,472.8 L451.8,472.4 L452.4,469.1 L453.0,464.1 L453.6,469.5 L454.2,473.9 L454.8,473.9 L455.4,473.5 L456.0,472.6 L456.6,473.5 L457.2,474.4 L457.8,474.8 L458.4,474.5 L459.0,474.4 L459.6,474.4 L460.2,474.6 L460.8,474.8 L461.4,475.1 L462.0,475.1 L462.6,474.9 L463.2,474.8 L463.8,474.7 L464.4,474.4 L465.0,474.3 L465.6,474.0 L466.2,473.6 L466.8,473.9 L467.4,473.8 L468.0,474.1 L468.6,473.9 L469.2,474.3 L469.8,475.3 L470.4,475.9 L471.0,475.9 L471.6,476.1 L472.2,475.9 L472.8,475.3 L473.4,474.5 L474.0,473.9 L474.6,474.3 L475.2,474.8 L475.8,474.8 L476.4,475.1 L477.0,474.7 L477.6,474.6 L478.2,475.2 L478.8,475.5 L479.4,475.5 L480.0,475.2 L480.6,475.2 L481.2,475.0 L481.8,475.3 L482.4,475.3 L483.0,474.6 L483.6,474.5 L484.2,474.0 L484.8,471.2 L485.4,463.9 L486.0,462.2 L486.6,470.3 L487.2,473.8 L487.8,475.0 L488.4,475.1 L489.0,474.8 L489.6,475.5 L490.2,476.3 L490.8,476.1 L491.4,475.8 L492.0,475.7 L492.6,475.3 L493.2,475.2 L493.8,476.0 L494.4,475.4 L495.0,475.1 L495.6,475.0 L496.2,475.0 L496.8,475.8 L497.4,476.3 L498.0,476.8 L498.6,476.8 L499.2,475.6 L499.8,474.9 L500.4,475.0 L501.0,474.9 L501.6,475.5 L502.2,475.8 L502.8,475.9 L503.4,475.6 L504.0,475.5 L504.6,475.5 L505.2,474.7 L505.8,474.4 L506.4,474.3 L507.0,474.2 L507.6,474.4 L508.2,474.7 L508.8,474.9 L509.4,475.3 L510.0,475.2 L510.6,476.0 L511.2,475.5 L511.8,475.6 L512.4,476.2 L513.0,475.6 L513.6,476.1 L514.2,475.2 L514.8,475.9 L515.4,476.4 L516.0,476.5 L516.6,476.2 L517.2,476.1 L517.8,476.1 L518.4,476.0 L519.0,475.6 L519.6,475.4 L520.2,474.8 L520.8,474.8 L521.4,475.0 L522.0,475.8 L522.6,475.7 L523.2,475.8 L523.8,475.3 L524.4,474.9 L525.0,474.4" fill="none" stroke="#c40b0b" stroke-width="1.4" stroke-linejoin="round"/>
<line x1="34.5" y1="481.1" x2="525.3" y2="481.1" stroke="#111" stroke-width="1.8"/>
<line x1="53.3" y1="481.1" x2="53.3" y2="488.90000000000003" stroke="#111" stroke-width="1.7"/>
<text x="53.3" y="508.5" text-anchor="middle" class="t">130</text>
<line x1="90.77" y1="481.1" x2="90.77" y2="488.90000000000003" stroke="#111" stroke-width="1.7"/>
<text x="90.77" y="508.5" text-anchor="middle" class="t">120</text>
<line x1="128.24" y1="481.1" x2="128.24" y2="488.90000000000003" stroke="#111" stroke-width="1.7"/>
<text x="128.24" y="508.5" text-anchor="middle" class="t">110</text>
<line x1="165.71" y1="481.1" x2="165.71" y2="488.90000000000003" stroke="#111" stroke-width="1.7"/>
<text x="165.71" y="508.5" text-anchor="middle" class="t">100</text>
<line x1="203.18" y1="481.1" x2="203.18" y2="488.90000000000003" stroke="#111" stroke-width="1.7"/>
<text x="203.18" y="508.5" text-anchor="middle" class="t">90</text>
<line x1="240.65" y1="481.1" x2="240.65" y2="488.90000000000003" stroke="#111" stroke-width="1.7"/>
<text x="240.65" y="508.5" text-anchor="middle" class="t">80</text>
<line x1="278.12" y1="481.1" x2="278.12" y2="488.90000000000003" stroke="#111" stroke-width="1.7"/>
<text x="278.12" y="508.5" text-anchor="middle" class="t">70</text>
<line x1="315.59" y1="481.1" x2="315.59" y2="488.90000000000003" stroke="#111" stroke-width="1.7"/>
<text x="315.59" y="508.5" text-anchor="middle" class="t">60</text>
<line x1="353.06" y1="481.1" x2="353.06" y2="488.90000000000003" stroke="#111" stroke-width="1.7"/>
<text x="353.06" y="508.5" text-anchor="middle" class="t">50</text>
<line x1="390.53" y1="481.1" x2="390.53" y2="488.90000000000003" stroke="#111" stroke-width="1.7"/>
<text x="390.53" y="508.5" text-anchor="middle" class="t">40</text>
<line x1="428.0" y1="481.1" x2="428.0" y2="488.90000000000003" stroke="#111" stroke-width="1.7"/>
<text x="428.0" y="508.5" text-anchor="middle" class="t">30</text>
<line x1="465.47" y1="481.1" x2="465.47" y2="488.90000000000003" stroke="#111" stroke-width="1.7"/>
<text x="465.47" y="508.5" text-anchor="middle" class="t">20</text>
<line x1="502.94" y1="481.1" x2="502.94" y2="488.90000000000003" stroke="#111" stroke-width="1.7"/>
<text x="502.94" y="508.5" text-anchor="middle" class="t">10</text>
<text x="153.5" y="401" class="t">C1</text>
<path d="M140.2,427.3 L140.2,421.29999999999995 Q140.2,418.9 142.6,418.9 L181.6,418.9 Q184,418.9 184,421.29999999999995 L184,427.3 M162.3,418.9 L162.3,409.4" fill="none" stroke="#111" stroke-width="2.1"/>
<text x="228.5" y="425.6" class="t">C4</text>
<path d="M222.9,454.7 L222.9,447.0 Q222.9,444.6 225.3,444.6 L251.6,444.6 Q254,444.6 254,447.0 L254,454.7 M238.7,444.6 L238.7,431.8" fill="none" stroke="#111" stroke-width="2.1"/>
<text x="241.5" y="254.5" class="t" letter-spacing="0.3">C2,3,5</text>
<path d="M238,279 L238,271.7 Q238,269.3 240.4,269.3 L297.5,269.3 Q299.9,269.3 299.9,271.7 L299.9,279 M268.3,269.3 L268.3,260.2" fill="none" stroke="#111" stroke-width="2.1"/>
<text x="297.5" y="353.7" class="t">C6</text>
<path d="M299.8,379.4 L299.8,372.0 Q299.8,369.6 302.2,369.6 L317.3,369.6 Q319.7,369.6 319.7,372.0 L319.7,379.4 M309.6,369.6 L309.6,358.2" fill="none" stroke="#111" stroke-width="2.1"/>
<text x="192.5" y="531.6" class="t" letter-spacing="0.11"><tspan font-size="10" dy="-4.2" letter-spacing="0.3">13</tspan><tspan dy="4.2">C chemical shift (ppm)</tspan></text>
</svg>
</body></html>
